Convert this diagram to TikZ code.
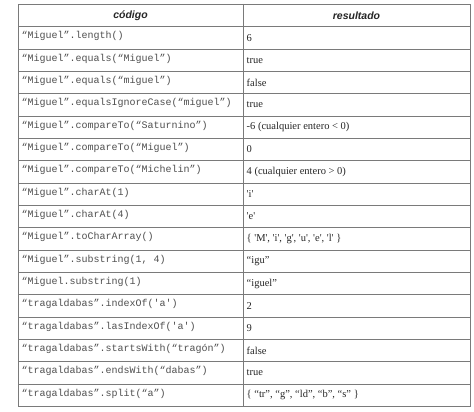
\documentclass[tikz,border=0pt]{standalone}
\usepackage{fontspec}
\newfontfamily\codefont{Liberation Mono}
\newfontfamily\resfont{Liberation Serif}
\newfontfamily\headfont{Liberation Sans}
\newcommand\sq{\textquotesingle}
\definecolor{gridgray}{HTML}{7A7A7A}
\definecolor{codegray}{HTML}{505050}
\definecolor{restext}{HTML}{262626}
\tikzset{
  gridline/.style={draw=gridgray, line width=0.9pt},
  codecell/.style={anchor=west, inner sep=0pt, font=\codefont\fontsize{10}{12}\selectfont, text=codegray},
  rescell/.style={anchor=west, inner sep=0pt, font=\resfont\fontsize{10.5}{12}\selectfont, text=restext},
  headcell/.style={anchor=center, inner sep=0pt, font=\headfont\bfseries\itshape\fontsize{10.5}{12}\selectfont, text=restext}
}
\begin{document}
\begin{tikzpicture}[x=1pt,y=-1pt]
\useasboundingbox (0,0) rectangle (474,412);
\fill[white] (0,0) rectangle (474,412);
\def\xl{18}\def\xm{243}\def\xr{470}
\def\ytop{4}\def\yh{26.7}\def\rh{22.33}
% grid
\coordinate (tl) at (\xl,\ytop);
\coordinate (br) at (\xr,{\yh+17*\rh});
\coordinate (mt) at (\xm,\ytop);
\coordinate (mb) at (\xm,{\yh+17*\rh});
\draw[gridline] (tl) rectangle (br);
\draw[gridline] (mt) -- (mb);
\foreach \k in {0,...,16}{
  \coordinate (l\k) at (\xl,{\yh+\k*\rh});
  \coordinate (r\k) at (\xr,{\yh+\k*\rh});
  \draw[gridline] (l\k) -- (r\k);
}
% header
\node[headcell] (hcod) at ({(\xl+\xm)/2},{(\ytop+\yh)/2}) {código};
\node[headcell] (hres) at ({(\xm+\xr)/2},{(\ytop+\yh)/2}) {resultado};
% rows
\foreach \c/\r [count=\i from 0] in {
  {“Miguel”.length()}/{6},
  {“Miguel”.equals(“Miguel”)}/{true},
  {“Miguel”.equals(“miguel”)}/{false},
  {“Miguel”.equalsIgnoreCase(“miguel”)}/{true},
  {“Miguel”.compareTo(“Saturnino”)}/{-6 (cualquier entero < 0)},
  {“Miguel”.compareTo(“Miguel”)}/{0},
  {“Miguel”.compareTo(“Michelin”)}/{4 (cualquier entero > 0)},
  {“Miguel”.charAt(1)}/{\sq i\sq},
  {“Miguel”.charAt(4)}/{\sq e\sq},
  {“Miguel”.toCharArray()}/{\{ \sq M\sq, \sq i\sq, \sq g\sq, \sq u\sq, \sq e\sq, \sq l\sq\ \}},
  {“Miguel”.substring(1, 4)}/{“igu”},
  {“Miguel.substring(1)}/{“iguel”},
  {“tragaldabas”.indexOf(\sq a\sq)}/{2},
  {“tragaldabas”.lasIndexOf(\sq a\sq)}/{9},
  {“tragaldabas”.startsWith(“tragón”)}/{false},
  {“tragaldabas”.endsWith(“dabas”)}/{true},
  {“tragaldabas”.split(“a”)}/{\{ “tr”, “g”, “ld”, “b”, “s” \}}
}{
  \node[codecell] (c\i) at (21.5,{\yh+(\i+0.5)*\rh-1.5}) {\c};
  \node[rescell] (v\i) at (246.5,{\yh+(\i+0.5)*\rh}) {\r};
}
\end{tikzpicture}
\end{document}
